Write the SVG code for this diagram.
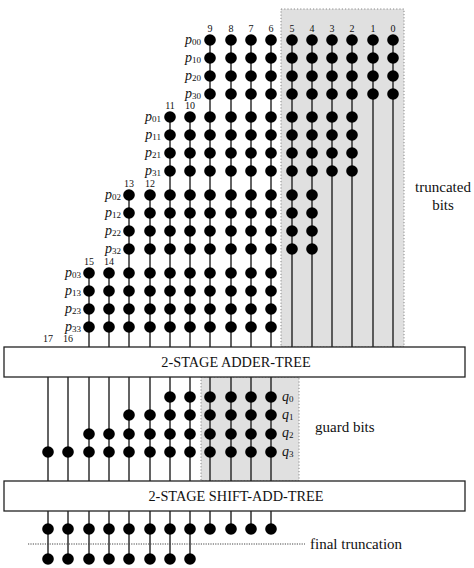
<svg xmlns="http://www.w3.org/2000/svg" width="474" height="568" viewBox="0 0 474 568">
<style>
.d{fill:#000}
.w{stroke:#222;stroke-width:1.4;fill:none}
.box{fill:#fff;stroke:#222;stroke-width:1.3}
.gr{fill:#e0e0e0;stroke:#888;stroke-width:1;stroke-dasharray:1.2 2}
.t{font-family:"Liberation Serif","Times New Roman",serif;fill:#111}
.n{font-size:10px;text-anchor:middle}
.lbl{font-size:14px;font-style:italic;text-anchor:end}
.ql{font-size:14px;font-style:italic}
.sub{font-size:9px;font-style:normal}
.big{font-size:14.3px;text-anchor:middle}
.txt{font-size:15px}
</style>
<defs>
<circle id="dot" r="5.8" class="d"/>
</defs>
<rect class="gr" x="281" y="9" width="123" height="338"/>
<rect class="gr" x="201" y="377" width="98" height="104"/>
<g id="connectors" class="w">
<path d="M393 40V347M373 40V347M352 40V347M332 40V347M312 40V347M292 40V347M271 40V347M251 40V347M231 40V347M210 40V347M190 117V347M170 117V347M150 195V347M129 195V347M109 273V347M89 273V347"/>
<path d="M48 377V481M68 377V481M89 377V481M109 377V481M129 377V481M150 377V481M170 377V481M190 377V481M210 377V481M231 377V481M251 377V481M271 377V481"/>
<path d="M48 511V559M68 511V559M89 511V559M109 511V559M129 511V559M150 511V559M170 511V559M190 511V559M210 511V529M231 511V529M251 511V529M271 511V529"/>
<path d="M28 544H305" stroke="#444" stroke-width="1" stroke-dasharray="1.2 1.2"/>
</g>
<g id="colnums" class="t n">
<text x="393" y="32">0</text><text x="373" y="32">1</text><text x="352" y="32">2</text><text x="332" y="32">3</text><text x="312" y="32">4</text><text x="292" y="32">5</text><text x="271" y="32">6</text><text x="251" y="32">7</text><text x="231" y="32">8</text><text x="210" y="32">9</text>
<text x="190" y="109">10</text><text x="170" y="109">11</text>
<text x="150" y="187">12</text><text x="129" y="187">13</text>
<text x="109" y="265">14</text><text x="89" y="265">15</text>
<text x="68" y="342">16</text><text x="48" y="342">17</text>
</g>
<g id="group0">
<g class="t lbl"><text x="201" y="44">p<tspan class="sub" dy="1">00</tspan></text><text x="201" y="62">p<tspan class="sub" dy="1">10</tspan></text><text x="201" y="80">p<tspan class="sub" dy="1">20</tspan></text><text x="201" y="98">p<tspan class="sub" dy="1">30</tspan></text></g>
<g id="r00"><use href="#dot" x="393" y="40"/><use href="#dot" x="373" y="40"/><use href="#dot" x="352" y="40"/><use href="#dot" x="332" y="40"/><use href="#dot" x="312" y="40"/><use href="#dot" x="292" y="40"/><use href="#dot" x="271" y="40"/><use href="#dot" x="251" y="40"/><use href="#dot" x="231" y="40"/><use href="#dot" x="210" y="40"/></g>
<g id="r10"><use href="#dot" x="393" y="58"/><use href="#dot" x="373" y="58"/><use href="#dot" x="352" y="58"/><use href="#dot" x="332" y="58"/><use href="#dot" x="312" y="58"/><use href="#dot" x="292" y="58"/><use href="#dot" x="271" y="58"/><use href="#dot" x="251" y="58"/><use href="#dot" x="231" y="58"/><use href="#dot" x="210" y="58"/></g>
<g id="r20"><use href="#dot" x="393" y="76"/><use href="#dot" x="373" y="76"/><use href="#dot" x="352" y="76"/><use href="#dot" x="332" y="76"/><use href="#dot" x="312" y="76"/><use href="#dot" x="292" y="76"/><use href="#dot" x="271" y="76"/><use href="#dot" x="251" y="76"/><use href="#dot" x="231" y="76"/><use href="#dot" x="210" y="76"/></g>
<g id="r30"><use href="#dot" x="393" y="94"/><use href="#dot" x="373" y="94"/><use href="#dot" x="352" y="94"/><use href="#dot" x="332" y="94"/><use href="#dot" x="312" y="94"/><use href="#dot" x="292" y="94"/><use href="#dot" x="271" y="94"/><use href="#dot" x="251" y="94"/><use href="#dot" x="231" y="94"/><use href="#dot" x="210" y="94"/></g>
</g>
<g id="group1">
<g class="t lbl"><text x="161" y="121">p<tspan class="sub" dy="1">01</tspan></text><text x="161" y="139">p<tspan class="sub" dy="1">11</tspan></text><text x="161" y="157">p<tspan class="sub" dy="1">21</tspan></text><text x="161" y="175">p<tspan class="sub" dy="1">31</tspan></text></g>
<g id="r01"><use href="#dot" x="352" y="117"/><use href="#dot" x="332" y="117"/><use href="#dot" x="312" y="117"/><use href="#dot" x="292" y="117"/><use href="#dot" x="271" y="117"/><use href="#dot" x="251" y="117"/><use href="#dot" x="231" y="117"/><use href="#dot" x="210" y="117"/><use href="#dot" x="190" y="117"/><use href="#dot" x="170" y="117"/></g>
<g id="r11"><use href="#dot" x="352" y="135"/><use href="#dot" x="332" y="135"/><use href="#dot" x="312" y="135"/><use href="#dot" x="292" y="135"/><use href="#dot" x="271" y="135"/><use href="#dot" x="251" y="135"/><use href="#dot" x="231" y="135"/><use href="#dot" x="210" y="135"/><use href="#dot" x="190" y="135"/><use href="#dot" x="170" y="135"/></g>
<g id="r21"><use href="#dot" x="352" y="153"/><use href="#dot" x="332" y="153"/><use href="#dot" x="312" y="153"/><use href="#dot" x="292" y="153"/><use href="#dot" x="271" y="153"/><use href="#dot" x="251" y="153"/><use href="#dot" x="231" y="153"/><use href="#dot" x="210" y="153"/><use href="#dot" x="190" y="153"/><use href="#dot" x="170" y="153"/></g>
<g id="r31"><use href="#dot" x="352" y="171"/><use href="#dot" x="332" y="171"/><use href="#dot" x="312" y="171"/><use href="#dot" x="292" y="171"/><use href="#dot" x="271" y="171"/><use href="#dot" x="251" y="171"/><use href="#dot" x="231" y="171"/><use href="#dot" x="210" y="171"/><use href="#dot" x="190" y="171"/><use href="#dot" x="170" y="171"/></g>
</g>
<g id="group2">
<g class="t lbl"><text x="121" y="199">p<tspan class="sub" dy="1">02</tspan></text><text x="121" y="217">p<tspan class="sub" dy="1">12</tspan></text><text x="121" y="235">p<tspan class="sub" dy="1">22</tspan></text><text x="121" y="253">p<tspan class="sub" dy="1">32</tspan></text></g>
<g id="r02"><use href="#dot" x="312" y="195"/><use href="#dot" x="292" y="195"/><use href="#dot" x="271" y="195"/><use href="#dot" x="251" y="195"/><use href="#dot" x="231" y="195"/><use href="#dot" x="210" y="195"/><use href="#dot" x="190" y="195"/><use href="#dot" x="170" y="195"/><use href="#dot" x="150" y="195"/><use href="#dot" x="129" y="195"/></g>
<g id="r12"><use href="#dot" x="312" y="213"/><use href="#dot" x="292" y="213"/><use href="#dot" x="271" y="213"/><use href="#dot" x="251" y="213"/><use href="#dot" x="231" y="213"/><use href="#dot" x="210" y="213"/><use href="#dot" x="190" y="213"/><use href="#dot" x="170" y="213"/><use href="#dot" x="150" y="213"/><use href="#dot" x="129" y="213"/></g>
<g id="r22"><use href="#dot" x="312" y="231"/><use href="#dot" x="292" y="231"/><use href="#dot" x="271" y="231"/><use href="#dot" x="251" y="231"/><use href="#dot" x="231" y="231"/><use href="#dot" x="210" y="231"/><use href="#dot" x="190" y="231"/><use href="#dot" x="170" y="231"/><use href="#dot" x="150" y="231"/><use href="#dot" x="129" y="231"/></g>
<g id="r32"><use href="#dot" x="312" y="249"/><use href="#dot" x="292" y="249"/><use href="#dot" x="271" y="249"/><use href="#dot" x="251" y="249"/><use href="#dot" x="231" y="249"/><use href="#dot" x="210" y="249"/><use href="#dot" x="190" y="249"/><use href="#dot" x="170" y="249"/><use href="#dot" x="150" y="249"/><use href="#dot" x="129" y="249"/></g>
</g>
<g id="group3">
<g class="t lbl"><text x="81" y="277">p<tspan class="sub" dy="1">03</tspan></text><text x="81" y="295">p<tspan class="sub" dy="1">13</tspan></text><text x="81" y="313">p<tspan class="sub" dy="1">23</tspan></text><text x="81" y="331">p<tspan class="sub" dy="1">33</tspan></text></g>
<g id="r03"><use href="#dot" x="271" y="273"/><use href="#dot" x="251" y="273"/><use href="#dot" x="231" y="273"/><use href="#dot" x="210" y="273"/><use href="#dot" x="190" y="273"/><use href="#dot" x="170" y="273"/><use href="#dot" x="150" y="273"/><use href="#dot" x="129" y="273"/><use href="#dot" x="109" y="273"/><use href="#dot" x="89" y="273"/></g>
<g id="r13"><use href="#dot" x="271" y="291"/><use href="#dot" x="251" y="291"/><use href="#dot" x="231" y="291"/><use href="#dot" x="210" y="291"/><use href="#dot" x="190" y="291"/><use href="#dot" x="170" y="291"/><use href="#dot" x="150" y="291"/><use href="#dot" x="129" y="291"/><use href="#dot" x="109" y="291"/><use href="#dot" x="89" y="291"/></g>
<g id="r23"><use href="#dot" x="271" y="309"/><use href="#dot" x="251" y="309"/><use href="#dot" x="231" y="309"/><use href="#dot" x="210" y="309"/><use href="#dot" x="190" y="309"/><use href="#dot" x="170" y="309"/><use href="#dot" x="150" y="309"/><use href="#dot" x="129" y="309"/><use href="#dot" x="109" y="309"/><use href="#dot" x="89" y="309"/></g>
<g id="r33"><use href="#dot" x="271" y="327"/><use href="#dot" x="251" y="327"/><use href="#dot" x="231" y="327"/><use href="#dot" x="210" y="327"/><use href="#dot" x="190" y="327"/><use href="#dot" x="170" y="327"/><use href="#dot" x="150" y="327"/><use href="#dot" x="129" y="327"/><use href="#dot" x="109" y="327"/><use href="#dot" x="89" y="327"/></g>
</g>
<text class="t txt" x="443" y="192" text-anchor="middle">truncated</text>
<text class="t txt" x="443" y="210" text-anchor="middle">bits</text>
<g id="adder-tree">
<rect class="box" x="4" y="347" width="461" height="30"/>
<text class="t big" x="236" y="367">2-STAGE ADDER-TREE</text>
</g>
<g id="guard">
<g class="t ql"><text x="282" y="401">q<tspan class="sub" dy="1">0</tspan></text><text x="282" y="419">q<tspan class="sub" dy="1">1</tspan></text><text x="282" y="437">q<tspan class="sub" dy="1">2</tspan></text><text x="282" y="456">q<tspan class="sub" dy="1">3</tspan></text></g>
<g id="q0"><use href="#dot" x="271" y="397"/><use href="#dot" x="251" y="397"/><use href="#dot" x="231" y="397"/><use href="#dot" x="210" y="397"/><use href="#dot" x="190" y="397"/><use href="#dot" x="170" y="397"/></g>
<g id="q1"><use href="#dot" x="271" y="415"/><use href="#dot" x="251" y="415"/><use href="#dot" x="231" y="415"/><use href="#dot" x="210" y="415"/><use href="#dot" x="190" y="415"/><use href="#dot" x="170" y="415"/><use href="#dot" x="150" y="415"/><use href="#dot" x="129" y="415"/></g>
<g id="q2"><use href="#dot" x="271" y="434"/><use href="#dot" x="251" y="434"/><use href="#dot" x="231" y="434"/><use href="#dot" x="210" y="434"/><use href="#dot" x="190" y="434"/><use href="#dot" x="170" y="434"/><use href="#dot" x="150" y="434"/><use href="#dot" x="129" y="434"/><use href="#dot" x="109" y="434"/><use href="#dot" x="89" y="434"/></g>
<g id="q3"><use href="#dot" x="271" y="452"/><use href="#dot" x="251" y="452"/><use href="#dot" x="231" y="452"/><use href="#dot" x="210" y="452"/><use href="#dot" x="190" y="452"/><use href="#dot" x="170" y="452"/><use href="#dot" x="150" y="452"/><use href="#dot" x="129" y="452"/><use href="#dot" x="109" y="452"/><use href="#dot" x="89" y="452"/><use href="#dot" x="68" y="452"/><use href="#dot" x="48" y="452"/></g>
<text class="t txt" x="315" y="432">guard bits</text>
</g>
<g id="shift-add-tree">
<rect class="box" x="4" y="481" width="461" height="30"/>
<text class="t big" x="236" y="501">2-STAGE SHIFT-ADD-TREE</text>
</g>
<g id="result">
<g id="res-upper"><use href="#dot" x="271" y="529"/><use href="#dot" x="251" y="529"/><use href="#dot" x="231" y="529"/><use href="#dot" x="210" y="529"/><use href="#dot" x="190" y="529"/><use href="#dot" x="170" y="529"/><use href="#dot" x="150" y="529"/><use href="#dot" x="129" y="529"/><use href="#dot" x="109" y="529"/><use href="#dot" x="89" y="529"/><use href="#dot" x="68" y="529"/><use href="#dot" x="48" y="529"/></g>
<g id="res-lower"><use href="#dot" x="190" y="559"/><use href="#dot" x="170" y="559"/><use href="#dot" x="150" y="559"/><use href="#dot" x="129" y="559"/><use href="#dot" x="109" y="559"/><use href="#dot" x="89" y="559"/><use href="#dot" x="68" y="559"/><use href="#dot" x="48" y="559"/></g>
<text class="t txt" x="310" y="549">final truncation</text>
</g>
</svg>
